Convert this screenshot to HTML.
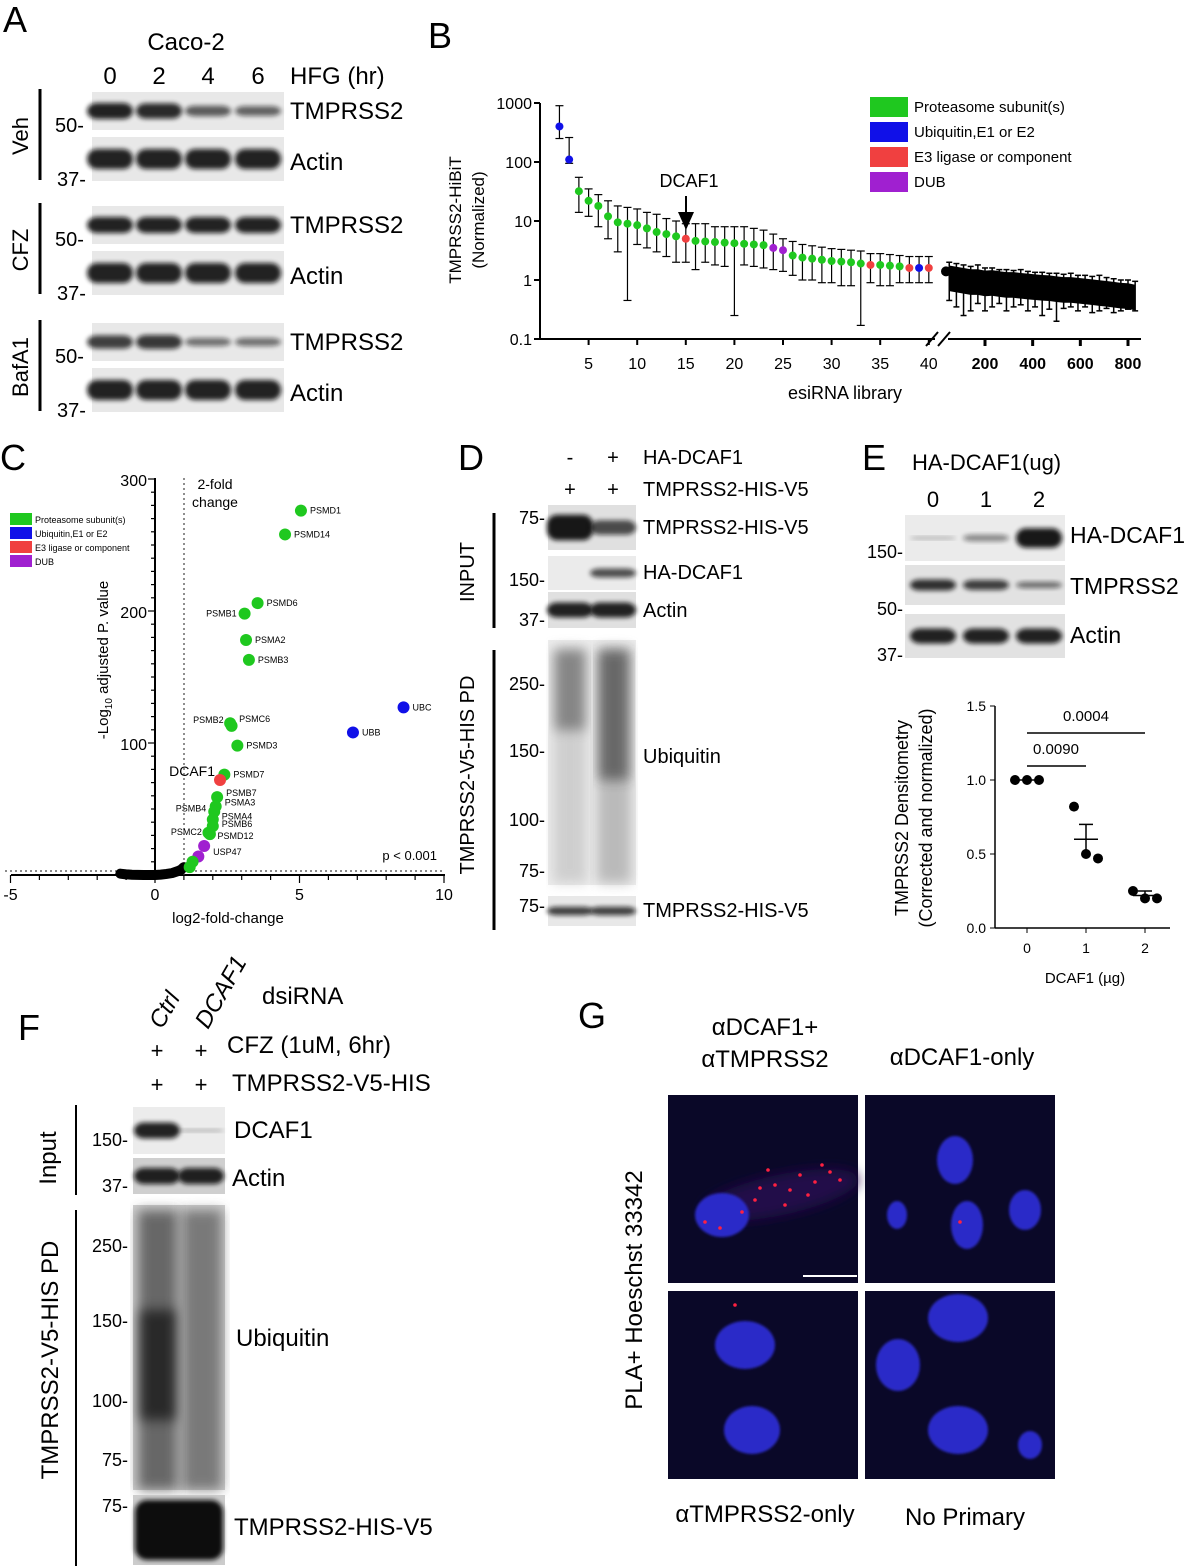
<!DOCTYPE html>
<html><head><meta charset="utf-8"><style>
body{margin:0;background:#fff}
svg{display:block;font-family:"Liberation Sans",Arial,sans-serif}
</style></head><body>
<svg id="fig" width="1200" height="1566" viewBox="0 0 1200 1566">
<defs>
<filter id="bl" x="-20%" y="-50%" width="140%" height="200%"><feGaussianBlur stdDeviation="2.5"/></filter>
<filter id="bl2" x="-20%" y="-20%" width="140%" height="140%"><feGaussianBlur stdDeviation="6"/></filter>
<filter id="bl1"><feGaussianBlur stdDeviation="1.2"/></filter>
</defs>
<g id="A"></g>
<g id="B"></g>
<g id="C"></g>
<g id="D"></g>
<g id="E"></g>
<g id="F"></g>
<g id="G"></g>
</svg>
<script>
// ---- Panel B data ----
const bIndex=[2,3,4,5,6,7,8,9,10,11,12,13,14,15,16,17,18,19,20,21,22,23,24,25,26,27,28,29,30,31,32,33,34,35,36,37,38,39,40];
const bValues=[400,110,32,22,18,12,9.5,9,8.5,7.5,6.5,6,5.5,5,4.6,4.5,4.4,4.3,4.2,4.1,4,3.9,3.5,3.2,2.6,2.4,2.3,2.2,2.1,2.05,2,1.9,1.8,1.8,1.75,1.7,1.6,1.6,1.6];
const bErrLow=[250,95,14,12,8,5,3,0.45,4,3.5,3,2.5,2,2,1.5,2,1.8,1.7,0.25,1.8,1.7,1.6,1.5,1.4,1.2,1,1,0.9,0.9,0.8,0.8,0.17,0.9,0.8,0.8,0.9,0.9,0.9,0.9];
const bErrHigh=[900,260,55,35,28,22,18,17,16,14,13,11,10,9,9,9,8,8,8,8,7.5,7,6,5,4.5,4,3.8,3.6,3.4,3.3,3.2,3.1,2.8,2.8,2.7,2.6,2.5,2.5,2.5];
const bClass=["u","u","p","p","p","p","p","p","p","p","p","p","p","e","p","p","p","p","p","p","p","p","d","d","p","p","p","p","p","p","p","p","e","p","p","p","e","u","e"];
const bTailRank=[50,80,110,140,170,200,230,260,290,320,350,380,410,440,470,500,530,560,590,620,650,680,710,740,770,800,830];
const bTailValues=[1.1,1.05,1.0,0.95,0.95,0.9,0.92,0.88,0.85,0.85,0.82,0.8,0.78,0.76,0.75,0.72,0.7,0.7,0.68,0.66,0.64,0.62,0.6,0.58,0.56,0.55,0.52];
const bTailLow=[0.45,0.35,0.25,0.3,0.4,0.3,0.35,0.4,0.3,0.35,0.38,0.3,0.35,0.25,0.32,0.2,0.33,0.35,0.3,0.35,0.28,0.3,0.33,0.28,0.3,0.32,0.3];
const bTailHigh=[2.0,1.9,1.8,1.7,1.8,1.6,1.6,1.5,1.5,1.45,1.5,1.4,1.35,1.35,1.3,1.3,1.25,1.3,1.2,1.2,1.15,1.2,1.1,1.05,1.0,1.0,0.95];
// ---- Panel C data ----
const cNames=["PSMD1","PSMD14","PSMD6","PSMB1","PSMA2","PSMB3","PSMC6","PSMB2","PSMD3","PSMD7","DCAF1","PSMB7","PSMA3","PSMB4","PSMA4","PSMB6","PSMD12","PSMC2","USP47","","","","UBC","UBB"];
const cFC=[5.05,4.5,3.55,3.1,3.15,3.25,2.6,2.65,2.85,2.4,2.25,2.15,2.1,2.05,2.0,2.0,1.85,1.9,1.7,1.5,1.3,1.2,8.6,6.85];
const cP=[276,258,206,198,178,163,115,113,98,76,72,59,52,48,42,37,32,31,22,14,10,6,127,108];
const cClass=["p","p","p","p","p","p","p","p","p","p","e","p","p","p","p","p","p","p","d","d","p","p","u","u"];
const cBgFC=[-1.2,-1.0,-0.8,-0.6,-0.4,-0.2,0,0.2,0.4,0.6,0.8,0.9,1.0];
const cBgP=[1,0.5,0.2,0.1,0,0,0,0.3,0.8,1.5,3,4,6];
// ---- Panel E data ----
const eDose=[0,1,2];
const eRep1=[1.0,0.82,0.25];
const eRep2=[1.0,0.5,0.2];
const eRep3=[1.0,0.47,0.2];
const eMean=[1.0,0.6,0.22];
const eSD=[0,0.1,0.03];
const eTicks=[0,0.5,1.0,1.5];

const NS="http://www.w3.org/2000/svg";
function el(parent,tag,attrs,txt){const e=document.createElementNS(NS,tag);for(const k in attrs)e.setAttribute(k,attrs[k]);if(txt!==undefined)e.textContent=txt;parent.appendChild(e);return e;}
const col={p:"#1fc81f",u:"#1010e8",e:"#f04040",d:"#a020d0"};

function blot(g,name,x,y,w,h,lanes,ints,bh,bg){
  const r=el(g,"rect",{x:x,y:y,width:w,height:h,fill:bg||"#e8e8e8"});
  
  
  lanes.forEach((lx,i)=>{ if(ints[i]<=0)return;
    const b=el(g,"rect",{x:lx-23,y:y+h/2-(bh*ints[i]/2+1),width:46,height:bh*ints[i]+2,rx:10,fill:"#111",opacity:Math.min(0.95,0.25+ints[i]*0.65),filter:"url(#bl)"});
    
    
  });
}
function txt(g,name,x,y,s,size,anchor,extra){
  const t=el(g,"text",Object.assign({x:x,y:y,"font-size":size,"text-anchor":anchor||"start",fill:"#000"},extra||{}),s);
  
  
  return t;
}

// ===== Panel A =====
(function(){
const g=document.getElementById("A");
txt(g,"panel-label-a",3,32,"A",36);
txt(g,"cell-line-label",186,50,"Caco-2",24,"middle");
const lanes=[110,159,208,258];
["0","2","4","6"].forEach((s,i)=>txt(g,"lane-label",lanes[i],84,s,24,"middle"));
txt(g,"hfg-label",290,84,"HFG (hr)",24);
const groups=[{n:"Veh",y:92,ints:[1,0.95,0.6,0.55]},{n:"CFZ",y:206,ints:[1,1,1,1]},{n:"BafA1",y:323,ints:[0.8,0.85,0.45,0.45]}];
groups.forEach(gr=>{
  blot(g,"tmprss2-blot",92,gr.y,192,38,lanes,gr.ints,14);
  blot(g,"actin-blot",92,gr.y+45,192,44,lanes,[1,1,1,1],18);
  txt(g,"tmprss2-label",290,gr.y+27,"TMPRSS2",24);
  txt(g,"actin-label",290,gr.y+78,"Actin",24);
  txt(g,"mw-50",55,gr.y+40,"50-",20);
  txt(g,"mw-37",57,gr.y+94,"37-",20);
  el(g,"line",{x1:40,x2:40,y1:gr.y-3,y2:gr.y+88,stroke:"#000","stroke-width":3});
  txt(g,"treatment-label",28,gr.y+44,gr.n,22,"middle",{transform:`rotate(-90 28 ${gr.y+44})`});
});
})();

// ===== Panel B =====
(function(){
const g=document.getElementById("B");
txt(g,"panel-label-b",428,48,"B",36);
const y=v=>280-59*Math.log10(v);
const x=i=>540+9.72*i;
const xr=r=>985+(r-200)*(1128-985)/600;
el(g,"line",{x1:540,x2:540,y1:103,y2:339,stroke:"#000","stroke-width":2});
el(g,"line",{x1:540,x2:935,y1:339,y2:339,stroke:"#000","stroke-width":2});
el(g,"line",{x1:948,x2:1141,y1:339,y2:339,stroke:"#000","stroke-width":2});
el(g,"line",{x1:926,x2:938,y1:346,y2:332,stroke:"#000","stroke-width":2});
el(g,"line",{x1:938,x2:950,y1:346,y2:332,stroke:"#000","stroke-width":2});
[1000,100,10,1,0.1].forEach(v=>{el(g,"line",{x1:534,x2:540,y1:y(v),y2:y(v),stroke:"#000","stroke-width":2});txt(g,"y-tick-label",532,y(v)+6,String(v),16,"end");});
[5,10,15,20,25,30,35,40].forEach(v=>{el(g,"line",{x1:x(v),x2:x(v),y1:339,y2:345,stroke:"#000","stroke-width":2});txt(g,"x-tick-label",x(v),369,String(v),16,"middle");});
[200,400,600,800].forEach(v=>{el(g,"line",{x1:xr(v),x2:xr(v),y1:339,y2:346,stroke:"#000","stroke-width":3});txt(g,"x-tick-label-tail",xr(v),369,String(v),16,"middle",{"font-weight":"bold"});});
txt(g,"x-axis-title",845,399,"esiRNA library",18,"middle");
txt(g,"y-axis-title",461,220,"TMPRSS2-HiBiT",17,"middle",{transform:"rotate(-90 461 220)"});
txt(g,"y-axis-title-2",484,220,"(Normalized)",17,"middle",{transform:"rotate(-90 484 220)"});
let top=[],bot=[];
bTailRank.forEach((r,i)=>{top.push(xr(r)+","+(y(bTailValues[i]*1.6)));bot.unshift(xr(r)+","+(y(bTailValues[i]/1.7)));});
const poly=el(g,"polygon",{points:top.concat(bot).join(" "),fill:"#000"});


bTailRank.forEach((r,i)=>{
  const ln=el(g,"line",{x1:xr(r),x2:xr(r),y1:y(bTailHigh[i]),y2:y(bTailLow[i]),stroke:"#000","stroke-width":1.5});
  
  
  el(g,"line",{x1:xr(r)-3,x2:xr(r)+3,y1:y(bTailLow[i]),y2:y(bTailLow[i]),stroke:"#000","stroke-width":1.5});
  el(g,"line",{x1:xr(r)-3,x2:xr(r)+3,y1:y(bTailHigh[i]),y2:y(bTailHigh[i]),stroke:"#000","stroke-width":1.5});
});
el(g,"circle",{cx:946,cy:y(1.4),r:5,fill:"#000"});
bIndex.forEach((i,k)=>{
  const cx=x(i);
  const e=el(g,"line",{x1:cx,x2:cx,y1:y(bErrHigh[k]),y2:y(bErrLow[k]),stroke:"#000","stroke-width":1.2});
  
  
  [bErrHigh[k],bErrLow[k]].forEach(v=>el(g,"line",{x1:cx-4,x2:cx+4,y1:y(v),y2:y(v),stroke:"#000","stroke-width":1.2}));
  const c=el(g,"circle",{cx:cx,cy:y(bValues[k]),r:4,fill:col[bClass[k]]});
  
  
});
txt(g,"dcaf1-annotation",689,187,"DCAF1",18,"middle");
el(g,"line",{x1:686,x2:686,y1:196,y2:218,stroke:"#000","stroke-width":2});
el(g,"polygon",{points:"678,212 694,212 686,230",fill:"#000"});
const leg=[["p","Proteasome subunit(s)"],["u","Ubiquitin,E1 or E2"],["e","E3 ligase or component"],["d","DUB"]];
leg.forEach((l,i)=>{const yy=97+i*25;const r=el(g,"rect",{x:870,y:yy,width:38,height:20,fill:col[l[0]]});txt(g,"legend-entry",914,yy+15,l[1],15);});
})();

// ===== Panel C =====
(function(){
const g=document.getElementById("C");
txt(g,"panel-label-c",0,470,"C",36);
const x=v=>155+v*28.9, y=v=>875-v*1.32;
el(g,"line",{x1:155,x2:155,y1:478,y2:875,stroke:"#000","stroke-width":2});
el(g,"line",{x1:11,x2:445,y1:875,y2:875,stroke:"#000","stroke-width":2});
for(let v=0;v<=300;v+=10){el(g,"line",{x1:v%100?151:148,x2:155,y1:y(v),y2:y(v),stroke:"#000","stroke-width":1.2});}
[0,100,200,300].forEach(v=>{if(v)txt(g,"y-tick-label",147,y(v)+7,String(v),16,"end");});
for(let v=-5;v<=10;v++){el(g,"line",{x1:x(v),x2:x(v),y1:875,y2:v%5?880:883,stroke:"#000","stroke-width":1.2});}
[-5,0,5,10].forEach(v=>txt(g,"x-tick-label",x(v),900,String(v),16,"middle"));
txt(g,"x-axis-title",228,923,"log2-fold-change",15,"middle");
const yt=el(g,"text",{x:108,y:660,"font-size":15,"text-anchor":"middle",transform:"rotate(-90 108 660)"});
yt.innerHTML='-Log<tspan font-size="10" dy="4">10</tspan><tspan dy="-4"> adjusted P. value</tspan>';


el(g,"line",{x1:184,x2:184,y1:478,y2:875,stroke:"#444","stroke-dasharray":"2,3","stroke-width":1.2});
el(g,"line",{x1:5,x2:445,y1:871,y2:871,stroke:"#444","stroke-dasharray":"2,3","stroke-width":1.2});
txt(g,"fold-change-annotation",215,489,"2-fold",14,"middle");
txt(g,"fold-change-annotation-2",215,507,"change",14,"middle");
txt(g,"p-threshold",437,860,"p < 0.001",13,"end");
const bgp=cBgFC.map((v,i)=>x(v)+","+y(cBgP[i])).join(" ");
const pl=el(g,"polyline",{points:bgp,fill:"none",stroke:"#000","stroke-width":10,"stroke-linecap":"round"});


cFC.forEach((v,i)=>{
  const c=el(g,"circle",{cx:x(v),cy:y(cP[i]),r:6,fill:col[cClass[i]]});
  
  
});
const left={PSMB1:1,PSMB2:1,PSMB4:1,PSMC2:1};
const dy={PSMB2:-6,PSMB4:-3,PSMC2:-2,PSMA3:-4,PSMA4:-3,PSMB6:-2,PSMD12:3,PSMB7:-4,PSMC6:-4,USP47:6};
cNames.forEach((n,i)=>{ if(!n||n==="DCAF1")return;
  const L=left[n];const xx=x(cFC[i])+(L?-8:9);
  txt(g,"gene-label",xx,y(cP[i])+3+(dy[n]||0),n,9,L?"end":"start");
});
txt(g,"dcaf1-label",215,776,"DCAF1",14,"end");
const leg=[["p","Proteasome subunit(s)"],["u","Ubiquitin,E1 or E2"],["e","E3 ligase or component"],["d","DUB"]];
leg.forEach((l,i)=>{const yy=513+i*14;const r=el(g,"rect",{x:10,y:yy,width:22,height:12,fill:col[l[0]]});txt(g,"legend-entry",35,yy+10,l[1],9);});
})();

// ===== Panel D =====
(function(){
const g=document.getElementById("D");
txt(g,"panel-label-d",458,470,"D",36);
const lanes=[570,613];
txt(g,"minus",570,464,"-",20,"middle");txt(g,"plus",613,464,"+",20,"middle");
txt(g,"plus",570,496,"+",20,"middle");txt(g,"plus",613,496,"+",20,"middle");
txt(g,"ha-dcaf1-header",643,464,"HA-DCAF1",20);
txt(g,"tmprss2-header",643,496,"TMPRSS2-HIS-V5",20);
blot(g,"tmprss2-input-blot",548,505,88,45,lanes,[1.3,0.7],18,"#e0e0e0");
blot(g,"ha-dcaf1-blot",548,556,88,34,lanes,[0,0.7],10,"#ebebeb");
blot(g,"actin-blot",548,592,88,36,lanes,[1,1],13,"#e0e0e0");
txt(g,"lbl",643,534,"TMPRSS2-HIS-V5",20);
txt(g,"lbl",643,579,"HA-DCAF1",20);
txt(g,"lbl",643,617,"Actin",20);
txt(g,"mw",545,524,"75-",18,"end");txt(g,"mw",545,586,"150-",18,"end");txt(g,"mw",545,626,"37-",18,"end");
el(g,"line",{x1:494,x2:494,y1:513,y2:628,stroke:"#000","stroke-width":3});
txt(g,"input-label",474,572,"INPUT",20,"middle",{transform:"rotate(-90 474 572)"});
el(g,"rect",{x:548,y:640,width:88,height:245,fill:"#ededed"});
const s1=el(g,"rect",{x:553,y:648,width:34,height:235,fill:"#bbb",filter:"url(#bl2)",opacity:0.6});

el(g,"rect",{x:555,y:650,width:30,height:80,fill:"#555",filter:"url(#bl2)",opacity:0.6});
const s2=el(g,"rect",{x:597,y:648,width:34,height:235,fill:"#999",filter:"url(#bl2)",opacity:0.6});

el(g,"rect",{x:599,y:650,width:30,height:130,fill:"#333",filter:"url(#bl2)",opacity:0.6});
txt(g,"lbl",643,763,"Ubiquitin",20);
[["250-",690],["150-",757],["100-",826],["75-",877],["75-",912]].forEach(m=>txt(g,"mw",545,m[1],m[0],18,"end"));
blot(g,"tmprss2-pd-blot",548,896,88,30,lanes,[0.8,0.8],8,"#e8e8e8");
txt(g,"lbl",643,917,"TMPRSS2-HIS-V5",20);
el(g,"line",{x1:494,x2:494,y1:650,y2:930,stroke:"#000","stroke-width":3});
txt(g,"pd-label",474,775,"TMPRSS2-V5-HIS PD",20,"middle",{transform:"rotate(-90 474 775)"});
})();

// ===== Panel E =====
(function(){
const g=document.getElementById("E");
txt(g,"panel-label-e",862,470,"E",36);
txt(g,"ha-dcaf1-header",912,470,"HA-DCAF1(ug)",22);
const lanes=[933,986,1039];
["0","1","2"].forEach((s,i)=>txt(g,"lane-label",lanes[i],507,s,22,"middle"));
blot(g,"ha-dcaf1-blot",905,515,160,46,lanes,[0.05,0.3,1.1],16,"#ebebeb");
blot(g,"tmprss2-blot",905,565,160,40,lanes,[0.9,0.8,0.45],10,"#e2e2e2");
blot(g,"actin-blot",905,614,160,44,lanes,[1,1,1],13,"#e2e2e2");
txt(g,"lbl",1070,543,"HA-DCAF1",23);txt(g,"lbl",1070,594,"TMPRSS2",23);txt(g,"lbl",1070,643,"Actin",23);
txt(g,"mw",903,558,"150-",18,"end");txt(g,"mw",903,615,"50-",18,"end");txt(g,"mw",903,661,"37-",18,"end");
const y=v=>928-v*148, x=d=>1027+d*59;
el(g,"line",{x1:995,x2:995,y1:706,y2:928,stroke:"#000","stroke-width":1.5});
el(g,"line",{x1:995,x2:1170,y1:928,y2:928,stroke:"#000","stroke-width":1.5});
eTicks.forEach(v=>{el(g,"line",{x1:990,x2:995,y1:y(v),y2:y(v),stroke:"#000"});txt(g,"y-tick-label",986,y(v)+5,v.toFixed(1),14,"end");});
eDose.forEach(d=>{el(g,"line",{x1:x(d),x2:x(d),y1:928,y2:933,stroke:"#000"});txt(g,"x-tick-label",x(d),953,String(d),14,"middle");});
txt(g,"x-axis-title",1085,983,"DCAF1 (µg)",15,"middle");
txt(g,"y-axis-title",908,818,"TMPRSS2 Densitometry",18,"middle",{transform:"rotate(-90 908 818)"});
txt(g,"y-axis-title-2",932,818,"(Corrected and normalized)",18,"middle",{transform:"rotate(-90 932 818)"});
eDose.forEach((d,i)=>{
  [[eRep1[i],-12],[eRep2[i],0],[eRep3[i],12]].forEach(p=>{const c=el(g,"circle",{cx:x(d)+p[1],cy:y(p[0]),r:5,fill:"#000"});});
  el(g,"line",{x1:x(d)-12,x2:x(d)+12,y1:y(eMean[i]),y2:y(eMean[i]),stroke:"#000","stroke-width":1.5});
  if(eSD[i]>0){el(g,"line",{x1:x(d),x2:x(d),y1:y(eMean[i]+eSD[i]),y2:y(eMean[i]-eSD[i]),stroke:"#000","stroke-width":1.5});
  el(g,"line",{x1:x(d)-7,x2:x(d)+7,y1:y(eMean[i]+eSD[i]),y2:y(eMean[i]+eSD[i]),stroke:"#000","stroke-width":1.5});}
});
el(g,"line",{x1:1027,x2:1086,y1:766,y2:766,stroke:"#000","stroke-width":1.5});
txt(g,"pvalue-1",1056,754,"0.0090",15,"middle");
el(g,"line",{x1:1027,x2:1145,y1:733,y2:733,stroke:"#000","stroke-width":1.5});
txt(g,"pvalue-2",1086,721,"0.0004",15,"middle");
})();

// ===== Panel F =====
(function(){
const g=document.getElementById("F");
txt(g,"panel-label-f",18,1040,"F",36);
txt(g,"ctrl-label",162,1030,"Ctrl",24,"start",{transform:"rotate(-60 162 1030)","font-style":"italic"});
txt(g,"dcaf1-label",208,1030,"DCAF1",24,"start",{transform:"rotate(-60 208 1030)","font-style":"italic"});
txt(g,"dsirna-label",262,1004,"dsiRNA",24);
[157,201].forEach(x=>{txt(g,"plus",x,1058,"+",22,"middle");txt(g,"plus",x,1092,"+",22,"middle");});
txt(g,"cfz-label",227,1053,"CFZ (1uM, 6hr)",24);
txt(g,"tmprss2-label",232,1091,"TMPRSS2-V5-HIS",24);
const lanes=[157,201];
blot(g,"dcaf1-blot",133,1107,92,47,lanes,[1,0.05],14,"#ececec");
blot(g,"actin-blot",133,1158,92,36,lanes,[1,1],14,"#cfcfcf");
txt(g,"lbl",234,1138,"DCAF1",24);txt(g,"lbl",232,1186,"Actin",24);
txt(g,"mw",128,1146,"150-",18,"end");txt(g,"mw",128,1192,"37-",18,"end");
el(g,"line",{x1:76,x2:76,y1:1105,y2:1195,stroke:"#000","stroke-width":2});
txt(g,"input-label",56,1158,"Input",24,"middle",{transform:"rotate(-90 56 1158)"});
el(g,"rect",{x:133,y:1205,width:92,height:285,fill:"#d0d0d0"});
const s1=el(g,"rect",{x:138,y:1210,width:40,height:280,fill:"#444",filter:"url(#bl2)",opacity:0.75});

el(g,"rect",{x:140,y:1310,width:36,height:110,fill:"#000",filter:"url(#bl2)",opacity:0.6});
const s2=el(g,"rect",{x:182,y:1210,width:40,height:280,fill:"#555",filter:"url(#bl2)",opacity:0.7});

txt(g,"lbl",236,1346,"Ubiquitin",24);
[["250-",1252],["150-",1327],["100-",1407],["75-",1466],["75-",1512]].forEach(m=>txt(g,"mw",128,m[1],m[0],18,"end"));
el(g,"rect",{x:133,y:1495,width:92,height:70,fill:"#cccccc"});
el(g,"rect",{x:135,y:1500,width:88,height:60,rx:12,fill:"#111",filter:"url(#bl)"});
txt(g,"lbl",234,1535,"TMPRSS2-HIS-V5",24);
el(g,"line",{x1:76,x2:76,y1:1210,y2:1566,stroke:"#000","stroke-width":2});
txt(g,"pd-label",58,1360,"TMPRSS2-V5-HIS PD",24,"middle",{transform:"rotate(-90 58 1360)"});
})();

// ===== Panel G =====
(function(){
const g=document.getElementById("G");
txt(g,"panel-label-g",578,1028,"G",36);
txt(g,"col-1-header",765,1035,"αDCAF1+",24,"middle");
txt(g,"col-1-header-2",765,1067,"αTMPRSS2",24,"middle");
txt(g,"col-2-header",962,1065,"αDCAF1-only",24,"middle");
txt(g,"row-bottom-left",765,1522,"αTMPRSS2-only",24,"middle");
txt(g,"row-bottom-right",965,1525,"No Primary",24,"middle");
txt(g,"y-label",642,1290,"PLA+ Hoeschst 33342",24,"middle",{transform:"rotate(-90 642 1290)"});
const panels=[
 {n:"dcaf1-tmprss2",x:668,y:1095,nuc:[[722,1215,27,22]],dots:[[760,1188],[775,1185],[790,1190],[800,1175],[815,1182],[830,1172],[840,1180],[755,1200],[742,1212],[720,1228],[705,1222],[785,1205],[822,1165],[808,1195],[768,1170]]},
 {n:"dcaf1-only",x:865,y:1095,nuc:[[955,1160,18,24],[967,1225,16,24],[1025,1210,16,20],[897,1215,10,14]],dots:[[960,1222]]},
 {n:"tmprss2-only",x:668,y:1291,nuc:[[745,1345,30,24],[752,1430,28,24]],dots:[[735,1305]]},
 {n:"no-primary",x:865,y:1291,nuc:[[958,1318,30,24],[898,1365,22,26],[958,1430,30,24],[1030,1445,12,14]],dots:[]}
];
panels.forEach(p=>{
  const r=el(g,"rect",{x:p.x,y:p.y,width:190,height:188,fill:"#0a0828"});
  
  
  if(p.n==="dcaf1-tmprss2")el(g,"ellipse",{cx:780,cy:1195,rx:80,ry:20,fill:"#241048",filter:"url(#bl2)",transform:"rotate(-12 780 1195)"});
  p.nuc.forEach(n=>{const e=el(g,"ellipse",{cx:n[0],cy:n[1],rx:n[2],ry:n[3],fill:"#2c2cc8",filter:"url(#bl1)"});});
  p.dots.forEach(d=>{const c=el(g,"circle",{cx:d[0],cy:d[1],r:1.8,fill:"#ff2040"});});
});
el(g,"line",{x1:803,x2:857,y1:1276,y2:1276,stroke:"#fff","stroke-width":2});
})();
</script>
</body></html>
